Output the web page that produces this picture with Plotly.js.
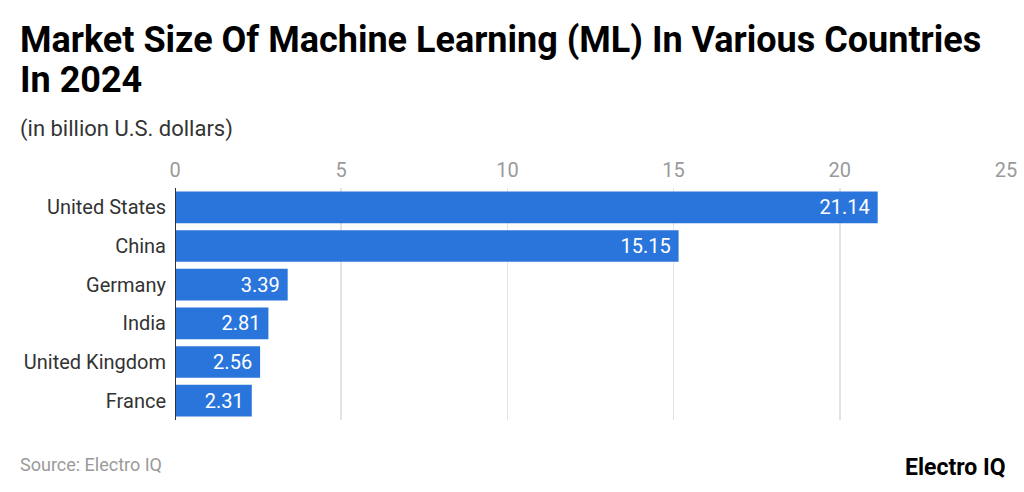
<!DOCTYPE html>
<html>
<head>
<meta charset="utf-8">
<script src="https://cdn.plot.ly/plotly-3.0.1.min.js"></script>
<style>html,body{margin:0;padding:0;background:#fff;}#chart{width:1024px;height:492px;}</style>
</head>
<body>
<div id="chart"></div>
<script>
const countries = ["United States", "China", "Germany", "India", "United Kingdom", "France"];
const marketSize = [21.14, 15.15, 3.39, 2.81, 2.56, 2.31];
const tickValues = [0, 5, 10, 15, 20, 25];

const trace = {
  type: "bar",
  orientation: "h",
  y: countries,
  x: marketSize,
  marker: {color: "#2a75dc"},
  text: marketSize.map(v => v.toFixed(2) + "\u00a0"),
  textposition: "inside",
  insidetextanchor: "end",
  textfont: {family: "Roboto, sans-serif", size: 20, color: "#ffffff"},
  cliponaxis: false,
  hoverinfo: "none"
};

const L = 175, R = 18, PW = 1024 - L - R;
const leftX = (18 - L) / PW;

const layout = {
  width: 1024, height: 492,
  margin: {l: L, r: R, t: 188, b: 72},
  paper_bgcolor: "#ffffff", plot_bgcolor: "#ffffff",
  showlegend: false,
  bargap: 0.18,
  xaxis: {
    side: "top", range: [0, 25], tickvals: tickValues,
    showgrid: true, gridcolor: "#e3e3e3", gridwidth: 1.5,
    zeroline: false, showline: false, ticks: "", ticklabelstandoff: 6,
    tickfont: {family: "Roboto, sans-serif", size: 20, color: "#9a9a9a"},
    fixedrange: true
  },
  yaxis: {
    autorange: "reversed", showgrid: false, zeroline: false,
    showline: false, ticks: "", ticklabelstandoff: 8,
    tickfont: {family: "Roboto, sans-serif", size: 20, color: "#333333"},
    fixedrange: true
  },
  shapes: [{type: "line", xref: "x", yref: "paper", x0: 0, x1: 0, y0: 0, y1: 1,
            line: {color: "#333333", width: 2}}],
  annotations: [
    {text: "<b>Market Size Of Machine Learning (ML) In Various Countries</b>",
     xref: "paper", yref: "paper", x: leftX, y: 1, xanchor: "left", yanchor: "middle",
     yshift: 148, align: "left", showarrow: false,
     font: {family: "Roboto, sans-serif", size: 36, color: "#000000"}},
    {text: "<b>In 2024</b>",
     xref: "paper", yref: "paper", x: leftX, y: 1, xanchor: "left", yanchor: "middle",
     yshift: 108, align: "left", showarrow: false,
     font: {family: "Roboto, sans-serif", size: 36, color: "#000000"}},
    {text: "(in billion U.S. dollars)", xref: "paper", yref: "paper", x: leftX, y: 1,
     xanchor: "left", yanchor: "middle", yshift: 59, showarrow: false,
     font: {family: "Roboto, sans-serif", size: 22, color: "#333333"}},
    {text: "Source: Electro IQ", xref: "paper", yref: "paper", x: leftX, y: 0,
     xanchor: "left", yanchor: "middle", yshift: -44, showarrow: false,
     font: {family: "Roboto, sans-serif", size: 18, color: "#9a9a9a"}},
    {text: "<b>Electro IQ</b>", xref: "paper", yref: "paper", x: 1, y: 0,
     xanchor: "right", yanchor: "middle", yshift: -47, xshift: 2, showarrow: false,
     font: {family: "Roboto, sans-serif", size: 23, color: "#000000"}}
  ]
};

Plotly.newPlot("chart", [trace], layout, {displayModeBar: false, staticPlot: true});
</script>
</body>
</html>
